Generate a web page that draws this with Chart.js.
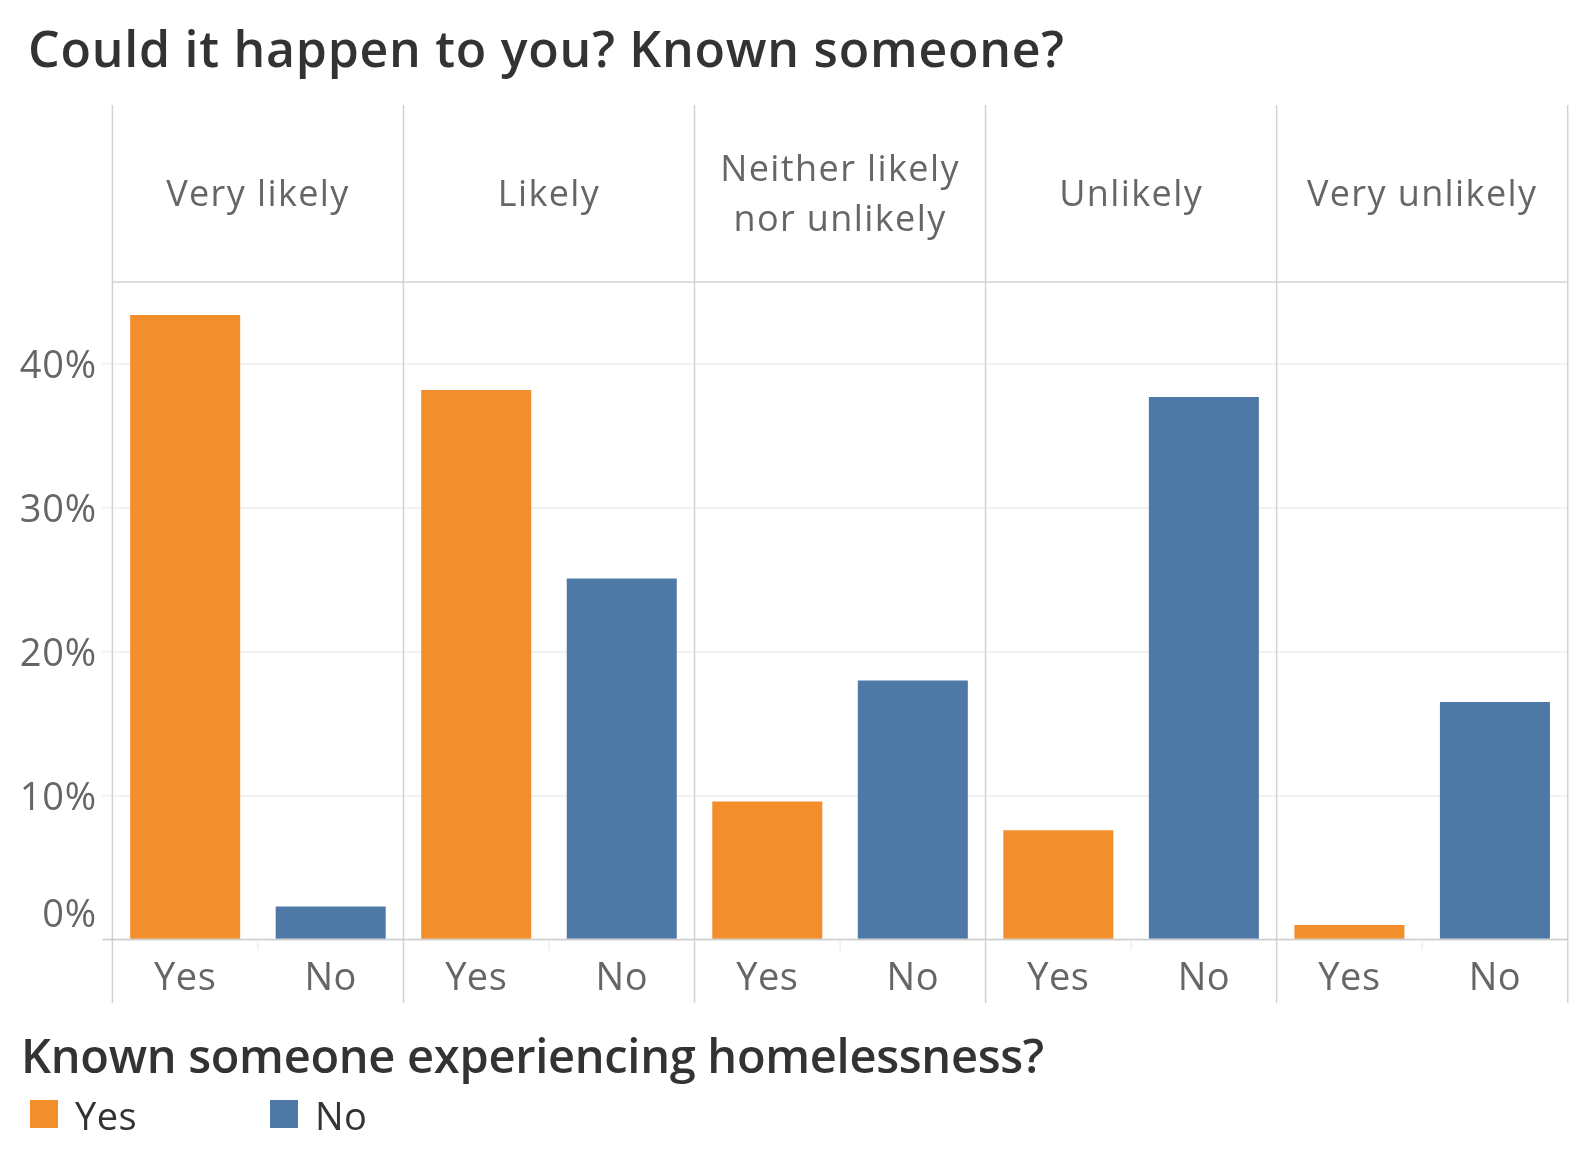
<!DOCTYPE html>
<html>
<head>
<meta charset="utf-8">
<script src="https://cdn.jsdelivr.net/npm/chart.js@4.4.1/dist/chart.umd.min.js"></script>
<style>
  html, body { margin: 0; padding: 0; background: #fff; }
  canvas { display: block; }
</style>
</head>
<body>
<canvas id="myChart" width="1588" height="1166"></canvas>
<script>
// data
const groups = [['Very likely'], ['Likely'], ['Neither likely', 'nor unlikely'], ['Unlikely'], ['Very unlikely']];
const seriesNames = ['Yes', 'No'];
const yesValues = [43.4, 38.2, 9.6, 7.6, 1.0];
const noValues = [2.3, 25.1, 18.0, 37.7, 16.5];
const yTicks = [0, 10, 20, 30, 40];
const seriesColors = ['#F28E2B', '#4E79A7'];

const titleText = 'Could it happen to you? Known someone?';
const legendTitle = 'Known someone experiencing homelessness?';

const font = '"Open Sans", "DejaVu Sans", sans-serif';
const yMax = 45.7;

const panels = {
  id: 'panels',
  beforeDatasetsDraw(chart) {
    const ctx = chart.ctx;
    const a = chart.chartArea;
    const n = groups.length;
    const w = (a.right - a.left) / n;
    ctx.save();
    ctx.strokeStyle = '#d2d2d2';
    ctx.lineWidth = 1.5;
    for (let i = 0; i <= n; i++) {
      const x = a.left + i * w;
      ctx.beginPath();
      ctx.moveTo(x, 105);
      ctx.lineTo(x, 1003);
      ctx.stroke();
    }
    // header bottom line
    ctx.beginPath();
    ctx.moveTo(a.left, a.top);
    ctx.lineTo(a.right, a.top);
    ctx.stroke();
    ctx.restore();
  },
  afterDatasetsDraw(chart) {
    const ctx = chart.ctx;
    const a = chart.chartArea;
    const xs = chart.scales.x;
    const ys = chart.scales.y;
    const base = ys.getPixelForValue(0);
    ctx.save();
    // baseline
    ctx.strokeStyle = '#cccccc';
    ctx.lineWidth = 1.5;
    ctx.beginPath();
    ctx.moveTo(a.left - 10, base);
    ctx.lineTo(a.right, base);
    ctx.stroke();
    // small ticks in the middle of each panel
    ctx.strokeStyle = '#e4e4e4';
    ctx.lineWidth = 1;
    groups.forEach((g, i) => {
      const cx = xs.getPixelForValue(i);
      ctx.beginPath();
      ctx.moveTo(cx, base + 2);
      ctx.lineTo(cx, base + 11);
      ctx.stroke();
    });

    // header labels
    ctx.fillStyle = '#666666';
    ctx.textAlign = 'center';
    ctx.textBaseline = 'alphabetic';
    ctx.font = '36px ' + font;
    ctx.letterSpacing = '1.4px';
    groups.forEach((lines, i) => {
      const cx = xs.getPixelForValue(i);
      const first = 206 - (lines.length - 1) * 25;
      lines.forEach((t, j) => ctx.fillText(t, cx, first + j * 50));
    });

    // x labels under each bar
    ctx.font = '38px ' + font;
    ctx.letterSpacing = '0.5px';
    seriesNames.forEach((name, d) => {
      chart.getDatasetMeta(d).data.forEach(bar => {
        ctx.fillText(name, bar.x, 990);
      });
    });

    // y labels
    ctx.textAlign = 'right';
    ctx.letterSpacing = '0.8px';
    yTicks.forEach(v => {
      const py = ys.getPixelForValue(v);
      ctx.fillText(v + '%', 97, Math.min(py + 14, base - 13));
    });

    // titles
    ctx.textAlign = 'left';
    ctx.fillStyle = '#333333';
    ctx.font = '600 50px ' + font;
    ctx.letterSpacing = '0.75px';
    ctx.fillText(titleText, 28, 67);
    ctx.font = '600 47px ' + font;
    ctx.letterSpacing = '-0.3px';
    ctx.fillText(legendTitle, 21, 1073);

    // legend
    ctx.font = '38px ' + font;
    ctx.letterSpacing = '0.5px';
    seriesNames.forEach((name, i) => {
      const lx = 30 + i * 240;
      ctx.fillStyle = seriesColors[i];
      ctx.fillRect(lx, 1100, 28, 28);
      ctx.fillStyle = '#333333';
      ctx.fillText(name, lx + 45, 1130);
    });
    ctx.restore();
  }
};

const myChart = document.getElementById('myChart').getContext('2d');

const surveyChart = new Chart(myChart, {
  type: 'bar',
  data: {
    labels: groups,
    datasets: [
      { label: seriesNames[0], data: yesValues, backgroundColor: seriesColors[0] },
      { label: seriesNames[1], data: noValues, backgroundColor: seriesColors[1] }
    ]
  },
  options: {
    responsive: false,
    devicePixelRatio: 1,
    animation: false,
    categoryPercentage: 1.0,
    barPercentage: 0.756,
    layout: { padding: { left: 0, top: 282, right: 20.3, bottom: 226.5 } },
    plugins: { legend: { display: false }, tooltip: { enabled: false } },
    scales: {
      x: { display: false },
      y: {
        min: 0,
        max: yMax,
        ticks: { display: false, stepSize: 10 },
        grid: {
          color: c => (c.tick && c.tick.value === yMax ? 'rgba(0,0,0,0)' : '#eeeeee'),
          lineWidth: 1.5,
          tickLength: 10
        },
        border: { display: false },
        afterFit(s) { s.width = 112.4; }
      }
    }
  },
  plugins: [panels]
});
</script>
</body>
</html>
